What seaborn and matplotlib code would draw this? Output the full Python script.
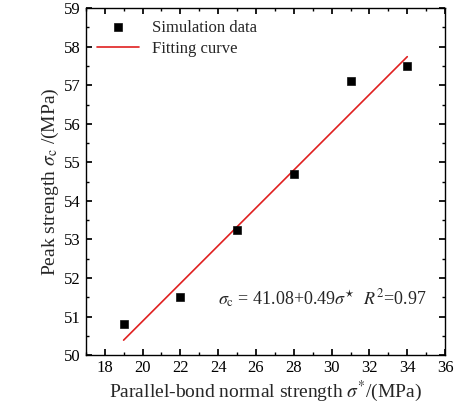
import matplotlib
matplotlib.use("Agg")
import matplotlib.pyplot as plt
import seaborn as sns
import numpy as np
from matplotlib.ticker import MultipleLocator

sns.set_theme(style="ticks")
plt.rcParams['font.family'] = ['Liberation Serif', 'DejaVu Serif']
plt.rcParams['mathtext.fontset'] = 'stix'

x_sim = [19, 22, 25, 28, 31, 34]
y_sim = [50.8, 51.5, 53.25, 54.7, 57.1, 57.5]
intercept, slope = 41.08, 0.49
x_fit = [19, 34]
y_fit = [intercept + slope * v for v in x_fit]

fig = plt.figure(figsize=(4.74, 4.05), dpi=100)
ax = fig.add_axes([0.181, 0.123, 0.758, 0.857])
sns.scatterplot(x=x_sim, y=y_sim, ax=ax, marker='s', color='black', s=30,
                edgecolor='black', label='Simulation data', zorder=3)
sns.lineplot(x=x_fit, y=y_fit, ax=ax, color='#e02020', lw=1.2, label='Fitting curve')
ax.set_xlim(17, 36)
ax.set_ylim(50, 59)
ax.xaxis.set_major_locator(MultipleLocator(2))
ax.yaxis.set_major_locator(MultipleLocator(1))
ax.xaxis.set_minor_locator(MultipleLocator(1))
ax.yaxis.set_minor_locator(MultipleLocator(0.5))
ax.tick_params(which='both', direction='in', top=True, right=True, labelsize=12, colors='black')
ax.tick_params(which='major', length=4)
ax.tick_params(which='minor', length=2)
for s in ax.spines.values():
    s.set_color('black'); s.set_linewidth(1)
ax.set_xlabel(r'Parallel-bond normal strength $\sigma^{*}$/(MPa)', fontsize=14, labelpad=2)
ax.set_ylabel(r'Peak strength $\sigma_{\rm c}$ /(MPa)', fontsize=14, labelpad=2)
ax.text(24.0, 51.3, r'$\sigma_{\rm c}$ = 41.08+0.49$\sigma^{\star}$  $R^{2}$=0.97', fontsize=13)
leg = ax.legend(loc='upper left', frameon=False, fontsize=12, handlelength=2.5,
                borderaxespad=0.3, labelspacing=0.3)
fig.savefig('out.png', dpi=100)
